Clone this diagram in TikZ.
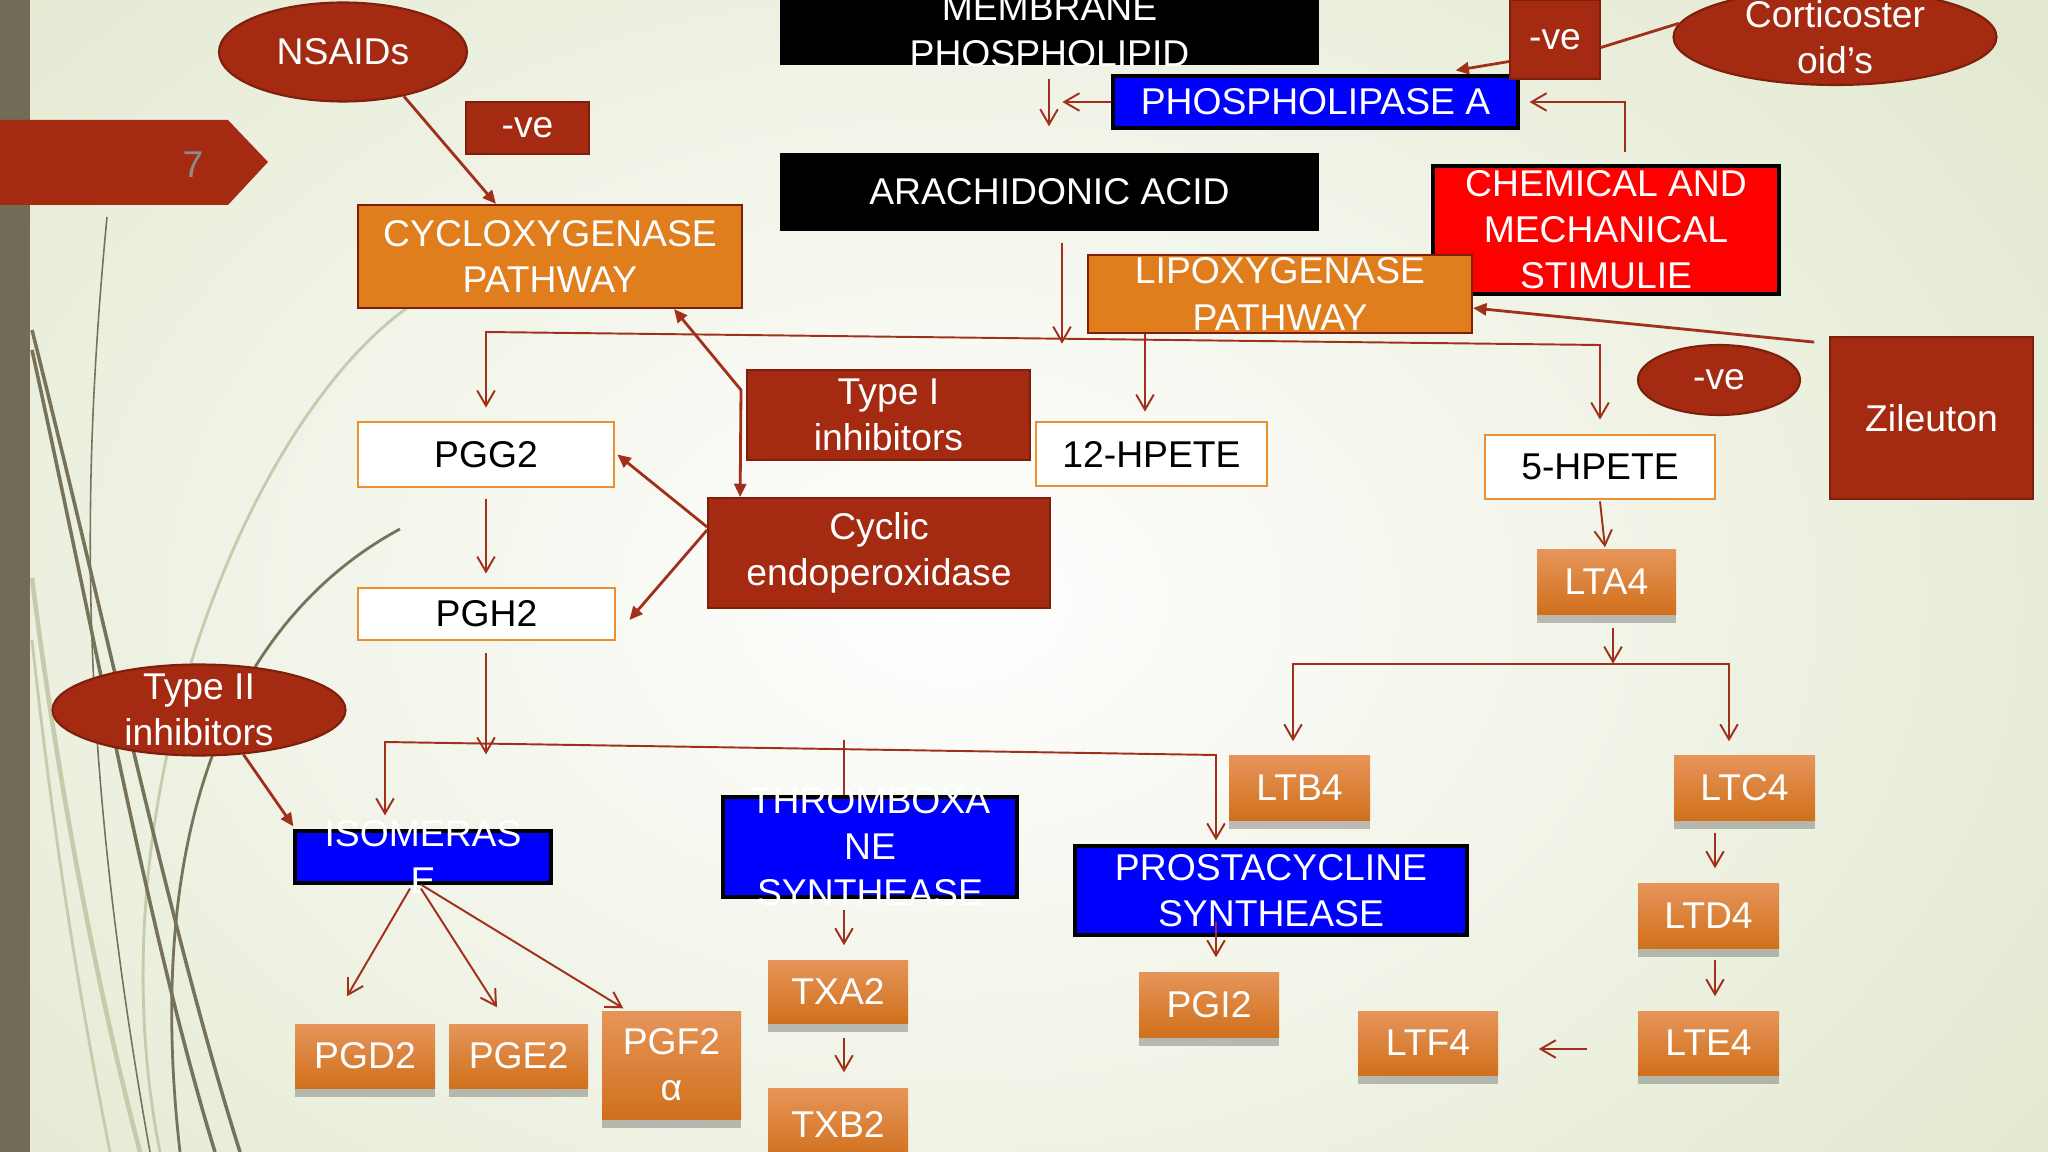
\documentclass[tikz,border=0pt]{standalone}
\usepackage{fontspec}
\setmainfont{Liberation Sans}
\usetikzlibrary{arrows.meta,calc,shapes.geometric,shadows}
\definecolor{bgout}{HTML}{D8E0BE}
\definecolor{bar}{HTML}{726B55}
\definecolor{wisp}{HTML}{77725A}
\definecolor{wisplight}{HTML}{C6CBAC}
\definecolor{rust}{HTML}{A52A12}
\definecolor{rustdark}{HTML}{7E1F0C}
\definecolor{amber}{HTML}{E07E1E}
\definecolor{amberhi}{HTML}{E6955A}
\definecolor{amberlo}{HTML}{D0701C}
\definecolor{edgeorange}{HTML}{E8912E}
\definecolor{arrowred}{HTML}{A0301A}
\definecolor{pureblue}{HTML}{0000FF}
\definecolor{purered}{HTML}{FF0000}
\definecolor{numgray}{HTML}{8C8C8C}
\tikzset{
  flowtip/.tip={Straight Barb[length=4.3pt,width=5pt]},
  stoptip/.tip={Triangle[length=3.8pt,width=3.4pt]},
  wtext/.style={font=\fontsize{10.6}{13.1}\selectfont, text=white, align=center, inner sep=0pt},
  sz/.style 2 args={minimum width=#1*0.01cm, minimum height=#2*0.01cm},
  rustbox/.style={wtext, fill=rust, draw=rustdark, line width=.5pt},
  rustell/.style={wtext, shape=ellipse, fill=rust, draw=rustdark, line width=.6pt},
  ambox/.style={wtext, fill=amber, draw=rustdark, line width=.6pt},
  darkbox/.style={wtext, fill=black},
  bluebox/.style={wtext, fill=pureblue, draw=black, line width=.9pt},
  redbox/.style={wtext, fill=purered, draw=black, line width=.9pt},
  whitebox/.style={wtext, text=black, fill=white, draw=edgeorange, line width=.8pt},
  ltbox/.style={wtext, top color=amberhi, bottom color=amberlo,
    drop shadow={shadow xshift=0pt, shadow yshift=-2.6pt, fill=black!70, opacity=.35}},
  wire/.style={draw=arrowred, line width=.55pt},
  flow/.style={wire, -flowtip},
  inh/.style={draw=arrowred, line width=.8pt, -stoptip}
}
\begin{document}
\begin{tikzpicture}[x=0.01cm, y=-0.01cm]
  \useasboundingbox (0,0) rectangle (2048,1152);
  % slide background
  \begin{scope}
    \clip (0,0) rectangle (2048,1152);
    \shade[inner color=white, outer color=bgout] (-900,-700) rectangle (2800,1900);
    \draw[wisplight, line width=.8pt] (407,308) .. controls (250,420) and (90,800) .. (160,1152);
    \draw[wisplight, line width=1.3pt] (32,578) .. controls (60,800) and (100,1000) .. (140,1152);
    \draw[wisplight, line width=.8pt] (32,640) .. controls (55,850) and (80,1000) .. (110,1152);
    \draw[wisp, line width=.45pt] (107,217) .. controls (80,500) and (80,760) .. (150,1152);
    \draw[wisp, line width=.8pt] (400,529) .. controls (250,610) and (140,800) .. (180,1152);
    \draw[wisp, line width=1pt] (32,330) .. controls (110,640) and (170,930) .. (240,1152);
    \draw[wisp, line width=1pt] (32,350) .. controls (100,660) and (150,940) .. (215,1152);
  \end{scope}
  \fill[bar] (0,0) rectangle (30,1152);
  \fill[rust] (0,120) -- (228,120) -- (268,162) -- (228,205) -- (0,205) -- cycle;
  \node[wtext, text=numgray] (slideno) at (193,165) {7};

  % inhibitors and upstream
  \node[rustell, sz={248}{99}] (nsaids) at (343,52) {NSAIDs};
  \node[rustbox, sz={123}{52}] (veA) at (527.5,128) {-ve};
  \node[ambox, sz={384}{103}] (cox) at (550,256.5) {CYCLOXYGENASE\\PATHWAY};
  \node[darkbox, sz={539}{68}, label={[wtext]center:{MEMBRANE\\PHOSPHOLIPID}}] (mem) at (1049.5,31) {};
  \node[bluebox, sz={405}{52}] (pla) at (1315.5,102) {PHOSPHOLIPASE A};
  \node[rustbox, sz={90}{79}] (veB) at (1555,39.5) {-ve};
  \node[rustell, sz={323}{96}, label={[wtext]center:{Corticoster\\oid’s}}] (cort) at (1835,37) {};
  \node[darkbox, sz={539}{78}] (aa) at (1049.5,192) {ARACHIDONIC ACID};
  \node[redbox, sz={346}{128}] (stim) at (1606,230) {CHEMICAL AND\\MECHANICAL\\STIMULIE};
  \node[ambox, sz={384}{78}] (lox) at (1280,294) {LIPOXYGENASE\\PATHWAY};

  % middle row
  \node[whitebox, sz={256}{65}] (pgg) at (486,454.5) {PGG2};
  \node[whitebox, sz={231}{64}] (hp12) at (1151.5,454) {12-HPETE};
  \node[whitebox, sz={230}{64}] (hp5) at (1600,467) {5-HPETE};
  \node[rustell, sz={162}{70}] (veC) at (1719,380) {-ve};
  \node[rustbox, sz={203}{162}] (zil) at (1931.5,418) {Zileuton};
  \node[rustbox, sz={283}{90}] (typeI) at (888.5,415) {Type I\\inhibitors};
  \node[rustbox, sz={342}{110}] (cyc) at (879,553) {Cyclic\\endoperoxidase};
  \node[whitebox, sz={257}{52}] (pgh) at (486.5,614) {PGH2};
  \node[rustell, sz={293}{91}, label={[wtext]center:{Type II\\inhibitors}}] (typeII) at (199,710) {};

  % synthases
  \node[bluebox, sz={256}{52}, label={[wtext]center:{ISOMERAS\\E}}] (iso) at (423,857) {};
  \node[bluebox, sz={294}{100}, label={[wtext]center:{THROMBOXA\\NE\\SYNTHEASE}}] (txs) at (870,847) {};
  \node[bluebox, sz={392}{89}] (pcs) at (1271,890.5) {PROSTACYCLINE\\SYNTHEASE};

  % products
  \node[ltbox, sz={140}{64}] (pgd) at (365,1056) {PGD2};
  \node[ltbox, sz={139}{64}] (pge) at (518.5,1056) {PGE2};
  \node[ltbox, sz={139}{108}] (pgf) at (671.5,1065) {PGF2\\α};
  \node[ltbox, sz={140}{63}] (txa) at (838,991.5) {TXA2};
  \node[ltbox, sz={140}{72}] (txb) at (838,1124) {TXB2};
  \node[ltbox, sz={140}{65}] (pgi) at (1209,1004.5) {PGI2};
  \node[ltbox, sz={139}{64}] (lta) at (1606.5,582) {LTA4};
  \node[ltbox, sz={141}{65}] (ltb) at (1299.5,787.5) {LTB4};
  \node[ltbox, sz={141}{65}] (ltc) at (1744.5,787.5) {LTC4};
  \node[ltbox, sz={141}{65}] (ltd) at (1708.5,915.5) {LTD4};
  \node[ltbox, sz={141}{64}] (lte) at (1708.5,1043) {LTE4};
  \node[ltbox, sz={140}{64}] (ltf) at (1428,1043) {LTF4};

  % junctions
  \coordinate (coxj) at (486,332);
  \coordinate (loxj) at (1600,345);
  \coordinate (typej) at (741,390);
  \coordinate (isoj) at (385,742);
  \coordinate (pcsj) at (1216,755);

  % inhibition arrows
  \draw[inh] (nsaids.-36) -- ($(cox.north west)+(139,0)$);
  \draw[wire, line width=.8pt] (cort.175) -- ($(veB.east)+(0,8)$);
  \draw[inh] ($(veB.west)+(0,22)$) -- ($(pla.north east)+(-64,-4)$);
  \draw[inh] ($(zil.north west)+(-15,6)$) -- ($(lox.east)+(0,14)$);
  \draw[inh, stoptip-stoptip] ($(cox.south east)+(-69,0)$) -- (typej) -- ($(cyc.north west)+(33,0)$);
  \draw[inh] ($(cyc.west)+(0,-26)$) -- ($(pgg.east)+(2,0)$);
  \draw[inh] ($(cyc.west)+(0,-23)$) -- ($(pgh.east)+(13,6)$);
  \draw[inh] (typeII.-45) -- ($(iso.north west)+(0,-3)$);

  % flow arrows
  \draw[flow] ($(mem.south)+(-0.5,13)$) -- ($(aa.north)+(-0.5,-26)$);
  \draw[flow] (pla.west) -- +(-49,0);
  \draw[flow] ($(stim.north)+(19,-12)$) |- ($(pla.east)+(10,0)$);
  \draw[flow] ($(aa.south)+(12.5,11)$) -- ++(0,101);
  \draw[flow, flowtip-flowtip] ($(pgg.north)+(0,-13)$) -- (coxj) -- (loxj) -- ($(hp5.north)+(0,-14)$);
  \draw[flow] ($(lox.south)+(-135,0)$) -- ($(hp12.north)+(-6.5,-9)$);
  \draw[flow] ($(pgg.south)+(0,11)$) -- ($(pgh.north)+(-0.5,-13)$);
  \draw[flow] ($(pgh.south)+(-0.5,12)$) -- ++(0,101);
  \draw[flow, flowtip-flowtip] ($(iso.north)+(-38,-14)$) -- (isoj) -- (pcsj) -- ($(pcs.north)+(-55,-4)$);
  \draw[wire] ($(txs.north)+(-26,-55)$) -- ($(txs.north)+(-26,0)$);
  \draw[flow] ($(iso.south)+(-13,4)$) -- ($(pgd.north)+(-18,-27)$);
  \draw[flow] ($(iso.south)+(-2,4)$) -- ($(pge.north)+(-21.5,-16)$);
  \draw[flow] ($(iso.south)+(-2,0)$) -- ($(pgf.north west)+(22,-2)$);
  \draw[flow] ($(txs.south)+(-26,11)$) -- ($(txa.north)+(6,-14)$);
  \draw[flow] ($(txa.south)+(6,14)$) -- ($(txb.north)+(6,-15)$);
  \draw[flow] ($(pcs.south)+(-55,-15)$) -- ($(pgi.north)+(7,-14)$);
  \draw[flow] ($(hp5.south)+(0,1)$) -- ($(lta.north)+(-1.5,-2)$);
  \draw[flow] ($(lta.south)+(6.5,13)$) -- ++(0,36);
  \draw[flow, flowtip-flowtip] ($(ltb.north)+(-6.5,-13)$) -- ++(0,-77) -| ($(ltc.north)+(-15.5,-13)$);
  \draw[flow] ($(ltc.south)+(-29.5,12)$) -- ($(ltd.north)+(6.5,-14)$);
  \draw[flow] ($(ltd.south)+(6.5,11)$) -- ($(lte.north)+(6.5,-14)$);
  \draw[flow] ($(lte.west)+(-50,6)$) -- ($(ltf.east)+(40,6)$);
\end{tikzpicture}
\end{document}
